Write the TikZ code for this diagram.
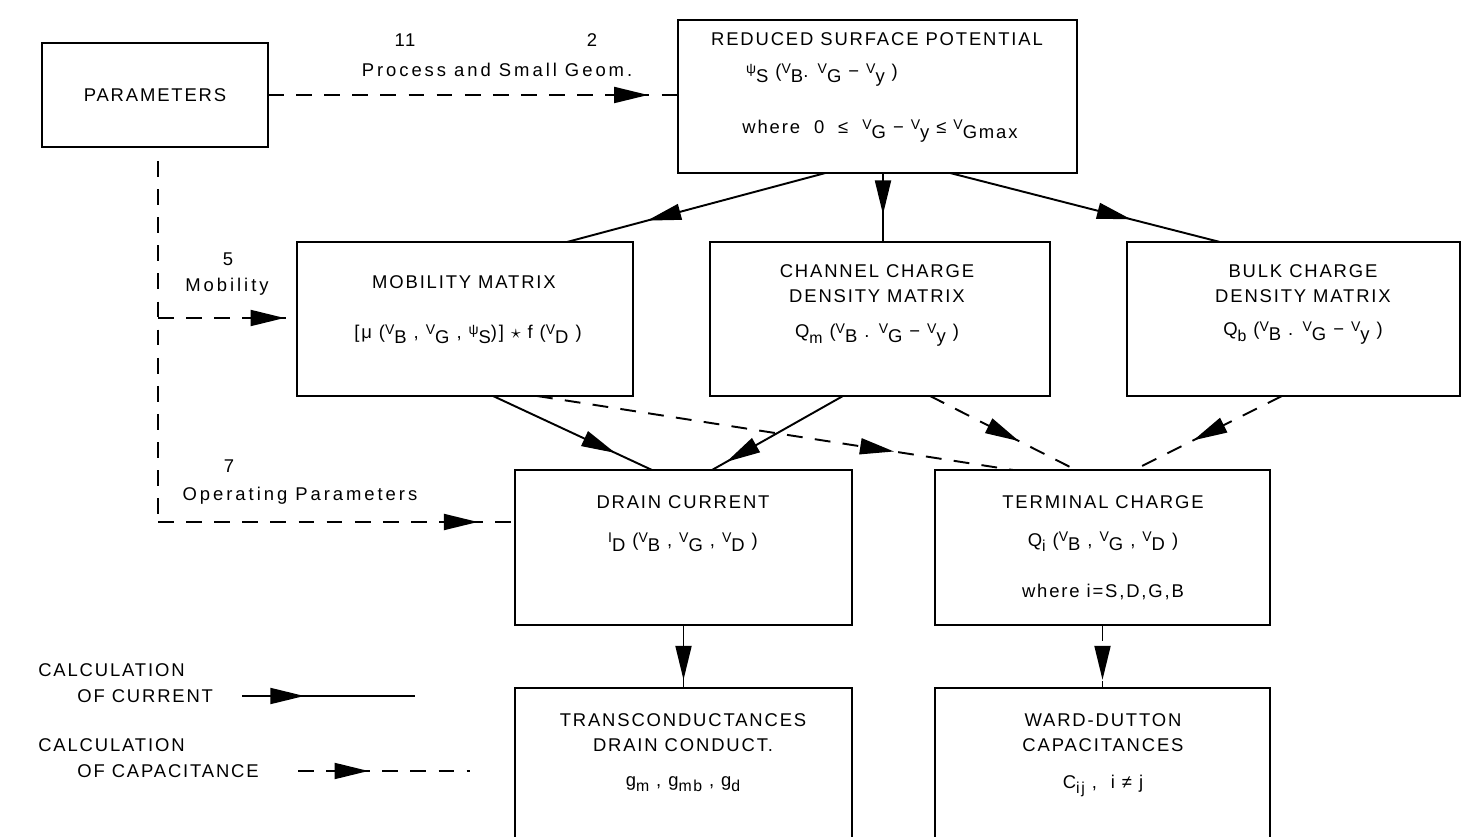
\documentclass[tikz,border=0pt]{standalone}
\usepackage{fontspec}
\setmainfont{Liberation Sans}[LetterSpace=10]
\usetikzlibrary{arrows.meta,decorations.markings,calc}
\newcommand\vsub[2]{\raisebox{0.45ex}{\footnotesize #1}\raisebox{-0.45ex}{#2}}
\newcommand\lsub[2]{#1\raisebox{-0.55ex}{\small #2}}
\begin{document}
\begin{tikzpicture}[x=0.02cm,y=-0.02cm,font=\fontsize{10.5}{12}\selectfont,
  box/.style={draw,line width=1.1pt,inner sep=0pt,outer sep=0pt},
  lbl/.style={inner sep=0pt},
  wide/.style={inner sep=0pt,font=\fontsize{10.5}{12}\selectfont\addfontfeature{LetterSpace=16}},
  ln/.style={line width=1.1pt},
  dsh/.style={line width=1.1pt,dash pattern=on 9pt off 7pt},
  marr/.style={postaction={decorate},decoration={markings,mark=at position #1 with {\arrow{Triangle[length=0.68cm,width=0.32cm]}}}}]
\useasboundingbox (0,0) rectangle (1481,837);
\fill[white] (0,0) rectangle (1481,837);

% boxes
\node[box,minimum width=4.52cm,minimum height=2.08cm] (par) at (155,95) {PARAMETERS};
\node[box,minimum width=7.98cm,minimum height=3.06cm] (rsp) at (877.5,96.5) {};
\node[box,minimum width=6.72cm,minimum height=3.08cm] (mob) at (465,319) {};
\node[box,minimum width=6.80cm,minimum height=3.08cm] (chn) at (880,319) {};
\node[box,minimum width=6.66cm,minimum height=3.08cm] (blk) at (1293.5,319) {};
\node[box,minimum width=6.74cm,minimum height=3.10cm] (drn) at (683.5,547.5) {};
\node[box,minimum width=6.70cm,minimum height=3.10cm] (trm) at (1102.5,547.5) {};
\node[box,minimum width=6.74cm,minimum height=3.44cm] (trc) at (683.5,774) {};
\node[box,minimum width=6.70cm,minimum height=3.44cm] (wdc) at (1102.5,774) {};

% texts
\node[lbl] (t11) at (405,40) {11};
\node[lbl] (t2) at (592,40) {2};
\node[wide] (tpsg) at (497,70) {Process and Small Geom.};
\node[lbl] (rsp1) at (877,39) {REDUCED SURFACE POTENTIAL};
\node[lbl] (rsp2) at (822,75) {\vsub{ψ}{S} (\vsub{V}{B}. \vsub{V}{G} − \vsub{V}{y} )};
\node[lbl] (rsp3) at (880,131) {where\ \ 0 \ ≤ \ \vsub{V}{G} − \vsub{V}{y} ≤ \vsub{V}{Gmax}};
\node[lbl] (mob1) at (464,282) {MOBILITY MATRIX};
\node[lbl] (mob2) at (468,334) {[μ (\vsub{V}{B} , \vsub{V}{G} , \vsub{ψ}{S})] $\star$ f (\vsub{V}{D} )};
\node[lbl] (chn1) at (877,271) {CHANNEL CHARGE};
\node[lbl] (chn2) at (877,296) {DENSITY MATRIX};
\node[lbl] (chn3) at (877,335) {\lsub{Q}{m} (\vsub{V}{B} . \vsub{V}{G} − \vsub{V}{y} )};
\node[lbl] (blk1) at (1303,271) {BULK CHARGE};
\node[lbl] (blk2) at (1303,296) {DENSITY MATRIX};
\node[lbl] (blk3) at (1303,333) {\lsub{Q}{b} (\vsub{V}{B} . \vsub{V}{G} − \vsub{V}{y} )};
\node[lbl] (t5) at (228,259) {5};
\node[wide] (tmob) at (227,287) {Mobility};
\node[lbl] (t7) at (229,466) {7};
\node[wide] (top) at (300,496) {Operating Parameters};
\node[lbl] (drn1) at (683,502) {DRAIN CURRENT};
\node[lbl] (drn2) at (683,542) {\vsub{I}{D} (\vsub{V}{B} , \vsub{V}{G} , \vsub{V}{D} )};
\node[lbl] (trm1) at (1103,502) {TERMINAL CHARGE};
\node[lbl] (trm2) at (1103,542) {\lsub{Q}{i} (\vsub{V}{B} , \vsub{V}{G} , \vsub{V}{D} )};
\node[lbl] (trm3) at (1103,592) {where i=S,D,G,B};
\node[lbl] (trc1) at (683,720) {TRANSCONDUCTANCES};
\node[lbl] (trc2) at (683,745) {DRAIN CONDUCT.};
\node[lbl] (trc3) at (683,784) {\lsub{g}{m} , \lsub{g}{mb} , \lsub{g}{d}};
\node[lbl] (wdc1) at (1103,720) {WARD-DUTTON};
\node[lbl] (wdc2) at (1103,745) {CAPACITANCES};
\node[lbl] (wdc3) at (1103,786) {\lsub{C}{ij} ,\ \ i ≠ j};
\node[lbl,anchor=west] (lg1) at (38,670) {CALCULATION};
\node[lbl,anchor=west] (lg2) at (77,696) {OF CURRENT};
\node[lbl,anchor=west] (lg3) at (38,745) {CALCULATION};
\node[lbl,anchor=west] (lg4) at (77,771) {OF CAPACITANCE};

% coordinates
\coordinate (pv) at (158,161);
\coordinate (mbj) at (158,318);
\coordinate (opj) at (158,522);
\coordinate (lc1) at (242,696);
\coordinate (lc2) at (415,696);
\coordinate (ld1) at (298,771);
\coordinate (ld2) at (470,771);

% connectors
\draw[dsh,marr=0.927] (par.east) -- (par.east -| rsp.west);
\draw[dsh] (pv) -- (opj);
\draw[dsh,marr=0.91] (mbj) -- (mbj -| mob.west);
\draw[dsh,marr=0.896] (opj) -- (opj -| drn.west);

\draw[ln,marr=0.69] ($(rsp.south)+(-52,0)$) -- ($(mob.north)+(102,0)$);
\draw[ln,marr=0.6] ($(rsp.south)+(5.5,0)$) -- ($(chn.north)+(3,0)$);
\draw[ln,marr=0.67] ($(rsp.south)+(72.5,0)$) -- ($(blk.north)+(-73.5,0)$);

\draw[ln,marr=0.77] ($(mob.south)+(28,0)$) -- ($(drn.north)+(-31.5,0)$);
\draw[ln,marr=0.89] ($(chn.south)+(-37,0)$) -- ($(drn.north)+(28.5,0)$);
\draw[dsh,marr=0.75] ($(mob.south)+(72,0)$) -- ($(trm.north)+(-89.5,0)$);
\draw[dsh,marr=0.61] ($(chn.south)+(50,0)$) -- ($(trm.north)+(-26.5,0)$);
\draw[dsh,marr=0.6] ($(blk.south)+(-11.5,0)$) -- ($(trm.north)+(31.5,0)$);

\draw[ln,marr=0.87] (drn.south) -- (trc.north);
\draw[dsh,marr=0.87] (trm.south) -- (wdc.north);

\draw[ln,marr=0.36] (lc1) -- (lc2);
\draw[dsh,marr=0.41] (ld1) -- (ld2);
\end{tikzpicture}
\end{document}
